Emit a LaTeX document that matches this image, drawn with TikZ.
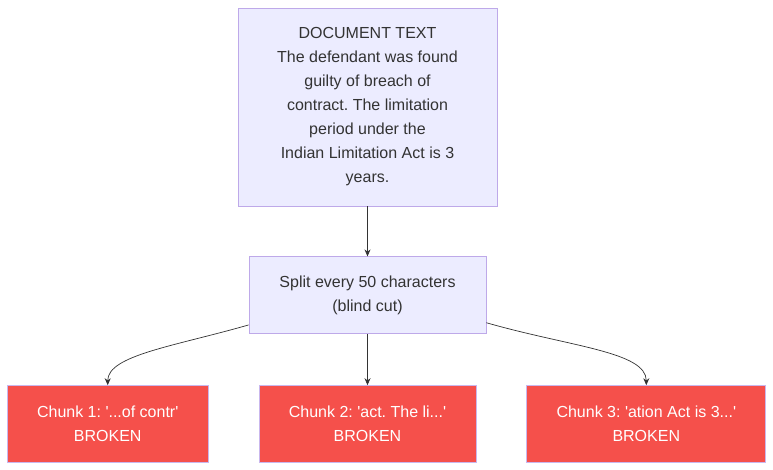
\documentclass[tikz,border=0pt]{standalone}
\usepackage{fontspec}
\setmainfont{Liberation Sans}
\usepackage{tikz}
\usetikzlibrary{positioning,arrows.meta}
\definecolor{boxlav}{HTML}{ECECFF}
\definecolor{edgelav}{HTML}{9370DB}
\definecolor{chunkred}{RGB}{245,80,75}
\definecolor{inkgray}{HTML}{333333}
\newcommand{\sq}{\textquotesingle}
\frenchspacing

\begin{document}
\begin{tikzpicture}[
  font=\fontsize{16pt}{24pt}\selectfont,
  proc/.style={rectangle, draw=edgelav!60, fill=boxlav, align=center,
               text=inkgray, line width=0.8pt, inner sep=0pt},
  bad/.style={rectangle, draw=edgelav!50, fill=chunkred, align=center,
              text=white, line width=0.8pt, inner sep=0pt,
              minimum height=77pt},
  arr/.style={-{Stealth[length=7pt,width=6pt]}, inkgray, line width=0.7pt}
]
\useasboundingbox (0,0) rectangle (773pt,-470pt);

\node[proc, minimum width=259pt, minimum height=198pt] (doc) at (367.5pt,-107pt)
  {DOCUMENT TEXT\\The defendant was found\\guilty of breach of\\contract. The limitation\\period under the\\Indian Limitation Act is 3\\years.};

\node[proc, minimum width=237pt, minimum height=77pt, below=50pt of doc] (split)
  {Split every 50 characters\\(blind cut)};

%% chunks in one row under the splitter
\node[bad, minimum width=217pt, below=51pt of split] (chunkB)
  {Chunk 2: \sq act. The li...\sq\\BROKEN};
\node[bad, minimum width=201pt, left=50pt of chunkB] (chunkA)
  {Chunk 1: \sq...of contr\sq\\BROKEN};
\node[bad, minimum width=239pt, right=50pt of chunkB] (chunkC)
  {Chunk 3: \sq ation Act is 3...\sq\\BROKEN};

\draw[arr] (doc) -- (split);
\draw[arr] (split) -- (chunkB);
\draw[arr] (split.194) to[out=196, in=90, out looseness=1.3, in looseness=0.5] (chunkA.north);
\draw[arr] (split.347) to[out=-16, in=90, out looseness=1.3, in looseness=0.5] (chunkC.north);

\end{tikzpicture}
\end{document}
